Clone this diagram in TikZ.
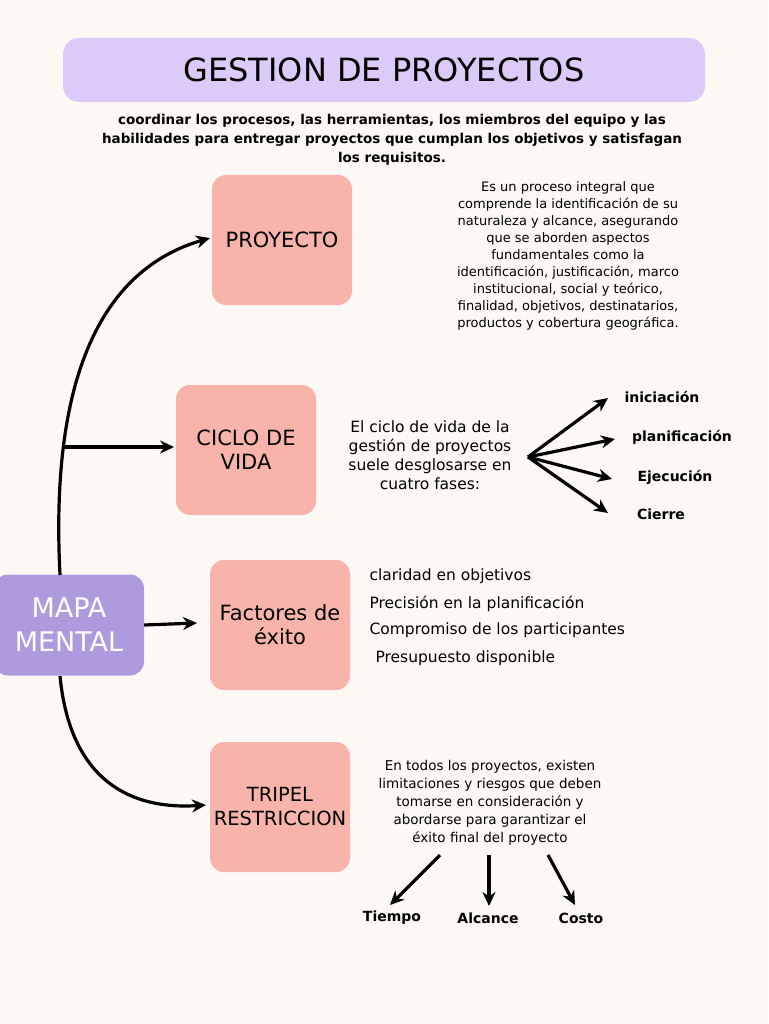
\documentclass[tikz,border=0pt]{standalone}
\usepackage{fontspec}
\setmainfont{DejaVu Sans}
\usetikzlibrary{arrows.meta}
\definecolor{bg}{HTML}{FCF9F5}
\definecolor{lav}{HTML}{DCCBF8}
\definecolor{pinkb}{HTML}{F8B4AA}
\definecolor{purp}{HTML}{AE9BDD}
\tikzset{
 pbox/.style={fill=pinkb,rounded corners=14pt,minimum width=140pt,minimum height=130pt,inner xsep=1pt,align=center,font=\fontsize{21}{24}\selectfont},
 arr/.style={line width=3.2pt,-{Stealth[length=14pt,width=13pt]}},
 small/.style={font=\fontsize{13}{17}\selectfont,align=center},
 lab/.style={font=\bfseries\fontsize{14}{16}\selectfont},
 item/.style={font=\fontsize{15.5}{18}\selectfont,anchor=west}
}
\begin{document}
\begin{tikzpicture}[x=1pt,y=-1pt]
\useasboundingbox (0,0) rectangle (768,1024);
\fill[bg] (0,0) rectangle (768,1024);
\node[fill=lav,rounded corners=16pt,minimum width=642pt,minimum height=64pt,font=\fontsize{32}{36}\selectfont] (title) at (384,70) {GESTION DE PROYECTOS};
\node[font=\bfseries\fontsize{13.5}{19}\selectfont,align=center] (desc) at (392,140) {coordinar los procesos, las herramientas, los miembros del equipo y las\\habilidades para entregar proyectos que cumplan los objetivos y satisfagan\\los requisitos.};
\node[pbox] (p1) at (282,240) {PROYECTO};
\node[pbox] (p2) at (246,450) {CICLO DE\\VIDA};
\node[pbox] (p3) at (280,625) {Factores de\\éxito};
\node[pbox,font=\fontsize{19.5}{24}\selectfont] (p4) at (280,807) {TRIPEL\\RESTRICCION};
\node[fill=purp,rounded corners=14pt,minimum width=150pt,minimum height=101pt,text=white,align=center,font=\fontsize{27}{34}\selectfont] (mm) at (69,625) {MAPA\\MENTAL};
\coordinate (top) at (60,575);
\coordinate (bot) at (60,676);
\draw[arr] (top) .. controls (50,380) and (100,270) .. (210,238);
\draw[arr] (bot) .. controls (70,780) and (130,810) .. (206,805);
\draw[arr] (62,447) -- (174,447);
\draw[arr] (mm.east) -- (197,623);
\node[small] (t1) at (568,256) {Es un proceso integral que\\comprende la identificación de su\\naturaleza y alcance, asegurando\\que se aborden aspectos\\fundamentales como la\\identificación, justificación, marco\\institucional, social y teórico,\\finalidad, objetivos, destinatarios,\\productos y cobertura geográfica.};
\node[font=\fontsize{15.5}{19}\selectfont,align=center] (t2) at (430,455) {El ciclo de vida de la\\gestión de proyectos\\suele desglosarse en\\cuatro fases:};
\coordinate (fan) at (528,457);
\node[lab] (f1) at (662,397) {iniciación};
\node[lab] (f2) at (682,437) {planificación};
\node[lab] (f3) at (675,477) {Ejecución};
\node[lab] (f4) at (661,514) {Cierre};
\draw[arr] (fan) -- (608,398);
\draw[arr] (fan) -- (615,439);
\draw[arr] (fan) -- (612,479);
\draw[arr] (fan) -- (608,513);
\node[item] (i1) at (366,576) {claridad en objetivos};
\node[item] (i2) at (366,604) {Precisión en la planificación};
\node[item] (i3) at (366,630) {Compromiso de los participantes};
\node[item] (i4) at (372,658) {Presupuesto disponible};
\node[small,font=\fontsize{13.5}{18}\selectfont] (t4) at (490,803) {En todos los proyectos, existen\\limitaciones y riesgos que deben\\tomarse en consideración y\\abordarse para garantizar el\\éxito final del proyecto};
\node[lab] (c1) at (392,918) {Tiempo};
\node[lab] (c2) at (488,918) {Alcance};
\node[lab] (c3) at (581,918) {Costo};
\coordinate (a1) at (440,855);
\coordinate (a2) at (489,855);
\coordinate (a3) at (548,855);
\draw[arr] (a1) -- (390,905);
\draw[arr] (a2) -- (489,906);
\draw[arr] (a3) -- (575,905);
\end{tikzpicture}
\end{document}
